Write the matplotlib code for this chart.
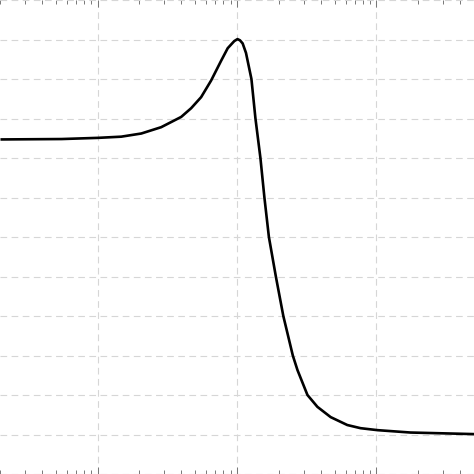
import numpy as np
import matplotlib
matplotlib.use("Agg")
import matplotlib.pyplot as plt
from matplotlib.ticker import LogLocator, MultipleLocator, NullFormatter

# frequency ratio (log axis) and response
freq = [0.0206, 0.0553, 0.101, 0.148, 0.206, 0.286, 0.398, 0.469, 0.553,
        0.652, 0.769, 0.858, 0.956, 1.008, 1.05, 1.098, 1.160, 1.269,
        1.356, 1.472, 1.572, 1.693, 1.899, 2.148, 2.512, 2.714, 3.199,
        3.771, 4.693, 6.175, 7.687, 10.17, 17.5, 50.0]
resp = [8.47, 8.48, 8.51, 8.54, 8.62, 8.78, 9.04, 9.26, 9.54,
        9.96, 10.46, 10.78, 10.96, 11.01, 10.98, 10.90, 10.66, 10.0,
        9.0, 8.0, 7.0, 6.0, 5.0, 4.0, 3.0, 2.63, 2.0,
        1.70, 1.44, 1.24, 1.16, 1.11, 1.05, 1.01]

fig = plt.figure(figsize=(4.74, 4.74), dpi=100)
ax = fig.add_axes([0, 0, 1, 1])

ax.plot(freq, resp, color="black", linewidth=1.9, solid_joinstyle="round")

ax.set_xscale("log")
ax.set_xlim(0.02, 50)
ax.set_ylim(0, 12)

ax.xaxis.set_major_locator(LogLocator(base=10))
ax.xaxis.set_minor_locator(LogLocator(base=10, subs=np.arange(2, 10)))
ax.xaxis.set_minor_formatter(NullFormatter())
ax.yaxis.set_major_locator(MultipleLocator(1))

ax.grid(True, which="major", color="#d6d6d6", linestyle=(0, (6, 4)), linewidth=0.8)
ax.tick_params(axis="x", which="both", direction="in", top=True, bottom=True,
               labelbottom=False, color="#777777", width=0.7)
ax.tick_params(axis="x", which="major", length=5)
ax.tick_params(axis="x", which="minor", length=3)
ax.tick_params(axis="y", which="both", length=0, labelleft=False)

for s in ax.spines.values():
    s.set_visible(False)

fig.savefig("out.png", dpi=100)
